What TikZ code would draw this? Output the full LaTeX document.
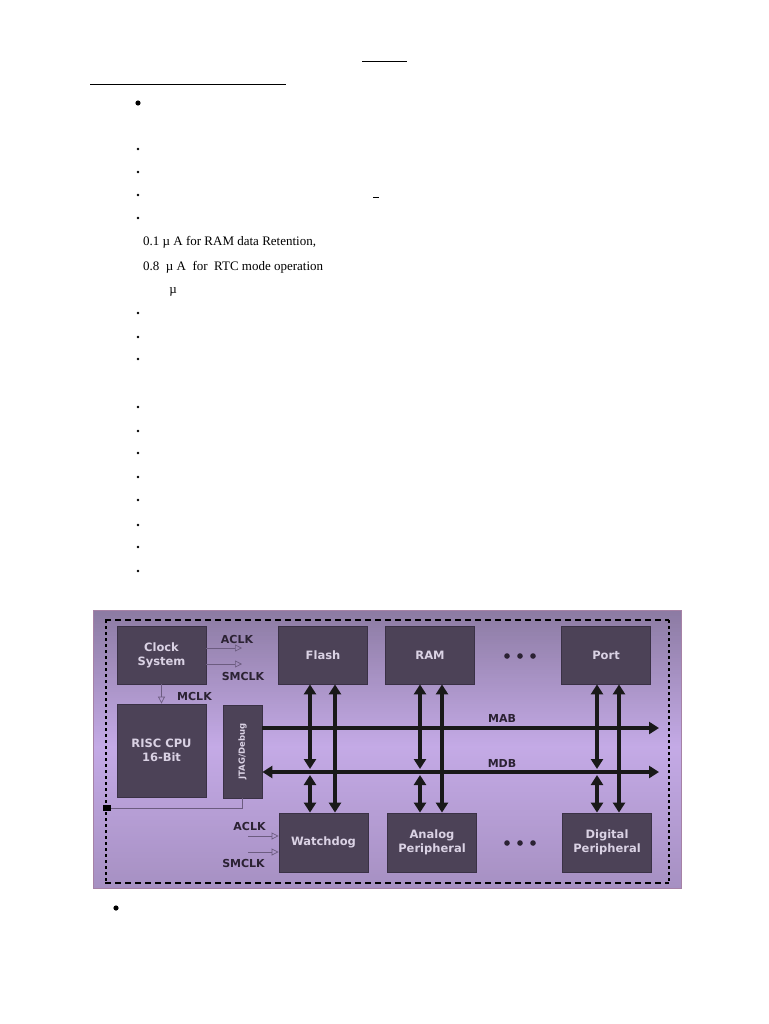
\documentclass[tikz,border=0pt]{standalone}
\usepackage{fontspec}
\setmainfont{Liberation Serif}
\newfontfamily\blkfont{DejaVu Sans}
\usetikzlibrary{arrows.meta,positioning}
\definecolor{boxfill}{HTML}{4C4257}
\definecolor{boxedge}{HTML}{3A3145}
\definecolor{boxtext}{HTML}{DAD2E4}
\definecolor{lbltext}{HTML}{2B2233}
\definecolor{clkline}{HTML}{6C5C80}
\definecolor{bgtop}{HTML}{8C7BA3}
\definecolor{bgmid}{HTML}{C4AAE6}
\definecolor{bgbot}{HTML}{A690C2}

\begin{document}
\begin{tikzpicture}[x=1pt,y=-1pt,>={Triangle[length=10pt,width=12pt]},
    txt/.style={font=\fontsize{13}{15}\selectfont,inner sep=0pt},
    blk/.style={draw=boxedge,fill=boxfill,line width=0.8pt,text=boxtext,align=center,
      font=\blkfont\bfseries\fontsize{11.5}{14}\selectfont,inner sep=0pt,
      minimum width=89pt,minimum height=58pt},
    lbl/.style={font=\blkfont\bfseries\fontsize{11}{12}\selectfont,text=lbltext,inner sep=0pt},
    bus/.style={line width=3.2pt,draw=black!90},
    clkarr/.style={draw=clkline,line width=0.7pt,-{Triangle[open,length=7pt,width=7pt]}}]
  \useasboundingbox (0,0) rectangle (768,1024);
  \fill[white] (0,0) rectangle (768,1024);

  \draw[line width=0.8pt] (362,61) -- (407,61);
  \draw[line width=0.8pt] (90,84) -- (286,84);
  \fill (138,103) circle (2.6);
  \foreach \y in {149,172,195,218,313,337,359,407,431,453,477,500,525,547,571}
    \fill (138,\y) circle (1.4);
  \draw[line width=0.6pt] (373,197) -- (379,197);
  \node[txt,anchor=west] (ret) at (143,242) {0.1 µ A for RAM data Retention,};
  \node[txt,anchor=west] (rtc) at (143,267) {0.8\ \ µ\ A\ \ for\ \ RTC mode operation};
  \node[txt] (mu) at (173,292) {µ};
  \fill (116,908) circle (2.6);

  \foreach \i in {0,...,138}{
    \pgfmathtruncatemacro\yy{610+2*\i}
    \ifnum\yy<746
      \pgfmathtruncatemacro\p{(\yy-610)/136*100}
      \fill[bgmid!\p!bgtop] (93,\yy) rectangle (681,\yy+2.6);
    \else
      \pgfmathtruncatemacro\p{(888-\yy)/142*100}
      \fill[bgmid!\p!bgbot] (93,\yy) rectangle (681,\yy+2.6);
    \fi
  }
  \draw[gray!60!violet!70,line width=0.8pt] (93,610) rectangle (681,888);
  \draw[line width=2pt,dash pattern=on 6pt off 4pt] (105,620) -- (669,620) (105,883) -- (669,883);
  \draw[line width=2pt,dash pattern=on 3pt off 3pt] (106,620) -- (106,883) (669,620) -- (669,883);

  \node[blk] (clk) at (161.5,655) {Clock\\System};
  \node[blk] (flash) at (323,655) {Flash};
  \node[blk] (ram) at (430,655) {RAM};
  \node[blk] (port) at (606,655) {Port};
  \node[blk,minimum height=93pt] (cpu) at (161.5,750.5) {RISC CPU\\16-Bit};
  \node[blk,minimum width=39pt,minimum height=93pt,font=\blkfont\bfseries\fontsize{8.5}{10}\selectfont]
    (jtag) at (242.5,751.5) {\rotatebox{90}{JTAG/Debug}};
  \node[blk,minimum height=59pt] (wdog) at (323.5,842.5) {Watchdog};
  \node[blk,minimum height=59pt] (analog) at (432,842.5) {Analog\\Peripheral};
  \node[blk,minimum height=59pt] (digital) at (607,842.5) {Digital\\Peripheral};

  \coordinate (mab) at (659,728);
  \coordinate (mdb) at (659,772);
  \coordinate (mdbtop) at ([yshift=3pt]mdb);
  \coordinate (mdbbot) at ([yshift=-3pt]mdb);
  \draw[bus,->] (jtag.east |- mab) -- (mab);
  \draw[bus,<->] (jtag.east |- mdb) -- (mdb);
  \node[lbl] (mablbl) at (502,718) {MAB};
  \node[lbl] (mdblbl) at (502,763) {MDB};

  \foreach \t/\b/\l/\r in {flash/wdog/310/335,ram/analog/420/442,port/digital/597/619}{
    \coordinate (L) at (\l,728);
    \coordinate (R) at (\r,728);
    \draw[bus,<->] (L |- \t.south) -- (L |- mdbtop);
    \draw[bus,<->] (L |- mdbbot) -- (L |- \b.north);
    \draw[bus,<->] (R |- \t.south) -- (R |- \b.north);
  }

  \coordinate (aclk) at (242,648);
  \coordinate (smclk) at (242,664);
  \draw[clkarr] (clk.east |- aclk) -- (aclk);
  \draw[clkarr] (clk.east |- smclk) -- (smclk);
  \draw[clkarr] (clk.south) -- (cpu.north);
  \node[lbl] (aclklbl) at (237,639) {ACLK};
  \node[lbl] (smclklbl) at (243,676) {SMCLK};
  \node[lbl] (mclklbl) at (194.5,696) {MCLK};

  \coordinate (aclkin) at (248,836);
  \coordinate (smclkin) at (248,852);
  \draw[clkarr] (aclkin) -- (aclkin -| wdog.west);
  \draw[clkarr] (smclkin) -- (smclkin -| wdog.west);
  \node[lbl] (aclkinlbl) at (249.5,826) {ACLK};
  \node[lbl] (smclkinlbl) at (243.5,863) {SMCLK};

  \node[fill=black,minimum width=8pt,minimum height=6pt,inner sep=0pt] (pin) at (107,808) {};
  \draw[clkline,line width=0.8pt] (jtag.south) |- (pin);

  \foreach \y in {656,843}
    \foreach \x in {507,520,533}
      \fill[lbltext] (\x,\y) circle (2.8);
\end{tikzpicture}
\end{document}
